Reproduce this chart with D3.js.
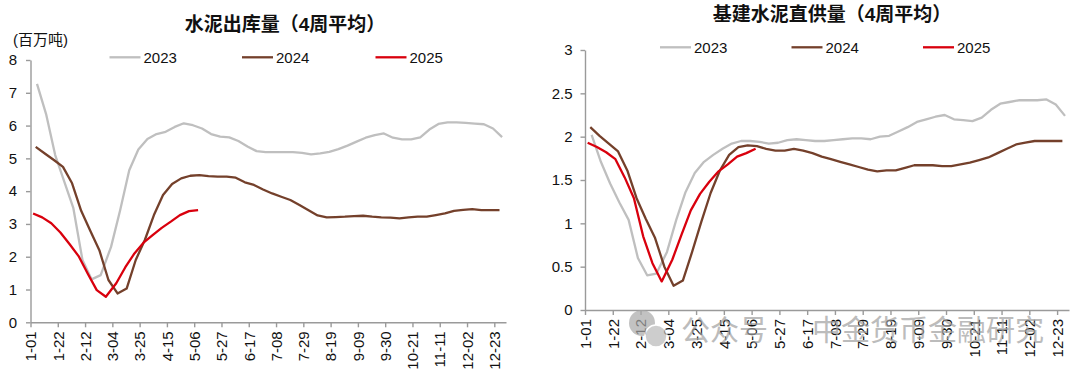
<!DOCTYPE html>
<html>
<head>
<meta charset="utf-8">
<script src="https://cdn.jsdelivr.net/npm/d3@7"></script>
<style>
  body { margin: 0; background: #fff; }
  svg { display: block; font-family: "Liberation Sans", Arial, "Noto Sans CJK SC", sans-serif; }
</style>
</head>
<body>
<svg id="chart" width="1080" height="375"></svg>
<script>
// ---- data (4-week moving average, weekly, first point = first Friday of the year)
var years = ["2023", "2024", "2025"];
var firstWeek = ["2023-01-06", "2024-01-05", "2025-01-03"];
var colors = ["#bfbfbf", "#74402b", "#d9000d"];
var tickLabels = ["1-01", "1-22", "2-12", "3-04", "3-25", "4-15", "5-06", "5-27", "6-17",
                  "7-08", "7-29", "8-19", "9-09", "9-30", "10-21", "11-11", "12-02", "12-23"];

// 水泥出库量, 百万吨
var out2023 = [7.27, 6.35, 5.1, 4.29, 3.48, 1.9, 1.31, 1.44, 2.3, 3.42, 4.64, 5.27, 5.59, 5.74,
               5.81, 5.96, 6.07, 6.01, 5.91, 5.74, 5.66, 5.64, 5.53, 5.36, 5.22, 5.19, 5.19, 5.19,
               5.19, 5.17, 5.12, 5.15, 5.2, 5.28, 5.39, 5.51, 5.63, 5.71, 5.76, 5.63, 5.58, 5.58,
               5.64, 5.88, 6.05, 6.1, 6.1, 6.08, 6.06, 6.04, 5.91, 5.65];
var out2024 = [5.35, 5.15, 4.95, 4.74, 4.24, 3.4, 2.79, 2.2, 1.29, 0.88, 1.03, 1.9, 2.51, 3.27,
               3.88, 4.22, 4.39, 4.47, 4.49, 4.46, 4.44, 4.44, 4.41, 4.27, 4.19, 4.05, 3.93, 3.83,
               3.73, 3.58, 3.42, 3.26, 3.2, 3.21, 3.22, 3.24, 3.25, 3.22, 3.2, 3.19, 3.17, 3.2,
               3.22, 3.22, 3.27, 3.32, 3.4, 3.43, 3.45, 3.42, 3.42, 3.42];
var out2025 = [3.32, 3.2, 3.02, 2.74, 2.39, 2.02, 1.49, 0.98, 0.78, 1.19, 1.68, 2.1, 2.43, 2.66,
               2.88, 3.07, 3.27, 3.39, 3.42];

// 基建水泥直供量
var infra2023 = [2.02, 1.71, 1.46, 1.24, 1.04, 0.6, 0.4, 0.42, 0.67, 1.04, 1.36, 1.58, 1.71, 1.79,
                 1.86, 1.92, 1.95, 1.95, 1.94, 1.92, 1.93, 1.96, 1.97, 1.96, 1.95, 1.95, 1.96, 1.97,
                 1.98, 1.98, 1.97, 2.0, 2.01, 2.06, 2.11, 2.17, 2.2, 2.23, 2.25, 2.2, 2.19, 2.18,
                 2.22, 2.31, 2.38, 2.4, 2.42, 2.42, 2.42, 2.43, 2.37, 2.24];
var infra2024 = [2.11, 2.01, 1.92, 1.83, 1.61, 1.29, 1.05, 0.83, 0.5, 0.28, 0.34, 0.67, 1.02, 1.35,
                 1.61, 1.79, 1.88, 1.9, 1.89, 1.86, 1.84, 1.84, 1.86, 1.84, 1.81, 1.77, 1.74, 1.71,
                 1.68, 1.65, 1.62, 1.6, 1.61, 1.61, 1.64, 1.67, 1.67, 1.67, 1.66, 1.66, 1.68, 1.7,
                 1.73, 1.76, 1.81, 1.86, 1.91, 1.93, 1.95, 1.95, 1.95, 1.95];
var infra2025 = [1.93, 1.88, 1.82, 1.74, 1.53, 1.29, 0.85, 0.54, 0.33, 0.58, 0.87, 1.15, 1.34, 1.48,
                 1.6, 1.68, 1.77, 1.81, 1.86];

var svg = d3.select("#chart");
var parse = d3.timeParse("%Y-%m-%d");

// put every year on the same (2024) calendar axis
function toSeries(values, i) {
  var start = parse(firstWeek[i]);
  return values.map(function(v, k) {
    var d = d3.timeWeek.offset(start, k);
    return { date: new Date(2024, d.getMonth(), d.getDate()), value: v };
  });
}

function drawPanel(cfg) {
  var g = svg.append("g");

  var x = d3.scaleTime()
      .domain([new Date(2024, 0, 1), new Date(2025, 0, 1)])
      .range([cfg.left, cfg.right]);
  var y = d3.scaleLinear().domain([0, cfg.yMax]).range([cfg.bottom, cfg.top]);

  var tickDates = tickLabels.map(function(t) {
    var p = t.split("-");
    return new Date(2024, +p[0] - 1, +p[1]);
  });

  var xAxis = d3.axisBottom(x)
      .tickValues(tickDates)
      .tickSize(5)
      .tickSizeOuter(0)
      .tickFormat(function(d, i) { return tickLabels[i]; });

  var yAxis = d3.axisLeft(y)
      .tickValues(d3.range(0, cfg.yMax + 1e-9, cfg.yStep))
      .tickSize(4.5)
      .tickSizeOuter(0)
      .tickPadding(cfg.yPad)
      .tickFormat(d3.format("~g"));

  var gx = g.append("g")
      .attr("transform", "translate(0," + cfg.bottom + ")")
      .call(xAxis);
  gx.selectAll(".tick text")
      .attr("transform", "rotate(-90)")
      .attr("text-anchor", "end")
      .attr("x", -9)
      .attr("y", 0)
      .attr("dy", "0.35em");

  var gy = g.append("g")
      .attr("transform", "translate(" + cfg.left + ",0)")
      .call(yAxis);

  [gx, gy].forEach(function(a) {
    a.selectAll(".domain, .tick line").attr("stroke", "#9a9a9a").attr("stroke-width", 1.4);
    a.selectAll(".tick text").attr("fill", "#111").style("font-size", "15px")
      .style("font-family", "'Liberation Sans', Arial, sans-serif");
  });

  var line = d3.line()
      .x(function(d) { return x(d.date); })
      .y(function(d) { return y(d.value); });

  cfg.series.forEach(function(vals, i) {
    g.append("path")
        .datum(toSeries(vals, i))
        .attr("fill", "none")
        .attr("stroke", colors[i])
        .attr("stroke-width", 2.3)
        .attr("stroke-linejoin", "round")
        .attr("d", line);
  });

  // title
  g.append("text")
      .attr("x", cfg.titleX)
      .attr("y", cfg.titleY)
      .attr("text-anchor", "middle")
      .style("font-size", "19px")
      .style("font-weight", "bold")
      .attr("fill", "#111")
      .text(cfg.title);

  if (cfg.unit) {
    g.append("text")
        .attr("x", 13)
        .attr("y", 45)
        .style("font-size", "15px")
        .attr("fill", "#111")
        .text(cfg.unit);
  }

  // legend
  var lg = g.selectAll(".lg").data(years).enter().append("g")
      .attr("transform", function(d, i) { return "translate(" + cfg.legendX[i] + "," + cfg.legendY + ")"; });
  lg.append("line")
      .attr("x1", 0).attr("x2", 31)
      .attr("stroke", function(d, i) { return colors[i]; })
      .attr("stroke-width", 2.3);
  lg.append("text")
      .attr("x", 34)
      .attr("dy", "0.35em")
      .style("font-size", "15px")
      .attr("fill", "#111")
      .text(function(d) { return d; });
}

drawPanel({
  title: "水泥出库量（4周平均）", titleX: 285, titleY: 31, unit: "(百万吨)",
  left: 30.5, right: 506, top: 60, bottom: 322.3, yMax: 8, yStep: 1, yPad: 9,
  legendX: [109.5, 242, 375.5], legendY: 57.3,
  series: [out2023, out2024, out2025]
});

drawPanel({
  title: "基建水泥直供量（4周平均）", titleX: 832, titleY: 21, unit: null,
  left: 585, right: 1069, top: 50, bottom: 310, yMax: 3, yStep: 0.5, yPad: 8,
  legendX: [660, 791.5, 923], legendY: 47.3,
  series: [infra2023, infra2024, infra2025]
});

// watermark
var wm = svg.append("g").attr("opacity", 0.7);
wm.append("circle").attr("cx", 642).attr("cy", 323).attr("r", 13).attr("fill", "#a9a9a9");
wm.append("circle").attr("cx", 656).attr("cy", 336).attr("r", 11).attr("fill", "#b9b9b9")
    .attr("stroke", "#fff").attr("stroke-width", 1.5);
wm.append("text").attr("x", 681).attr("y", 341)
    .style("font-size", "29px").style("font-family", "'Noto Sans CJK SC', sans-serif")
    .attr("fill", "#a0a0a0").text("公众号");
wm.append("text").attr("x", 812).attr("y", 341)
    .style("font-size", "29px").style("font-family", "'Noto Sans CJK SC', sans-serif")
    .attr("fill", "#a0a0a0").text("中金货币金融研究");
</script>
</body>
</html>
